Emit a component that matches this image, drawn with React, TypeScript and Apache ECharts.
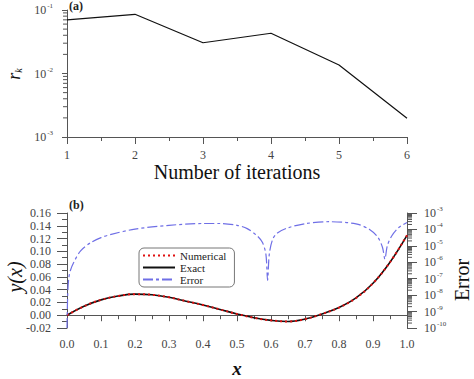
import React, { useEffect, useRef } from "react";
import * as echarts from "echarts";

// Panel (a): residual per iteration
const iterations = [1, 2, 3, 4, 5, 6];
const residuals = [0.0697, 0.0855, 0.0305, 0.043, 0.0136, 0.00197];

// Panel (b): solution y(x)
const xs = [0, 0.05, 0.1, 0.15, 0.2, 0.25, 0.3, 0.35, 0.4, 0.45, 0.5, 0.55, 0.6, 0.65, 0.7, 0.75, 0.8, 0.85, 0.9, 0.95, 1.0];
const yExact = [0, 0.014, 0.024, 0.030, 0.033, 0.032, 0.028, 0.022, 0.016, 0.009, 0.002, -0.004, -0.008, -0.0098, -0.006, 0.002, 0.012, 0.027, 0.050, 0.083, 0.125];
const yNumerical = [0, 0.014, 0.024, 0.030, 0.033, 0.032, 0.028, 0.022, 0.016, 0.009, 0.002, -0.004, -0.008, -0.0098, -0.006, 0.002, 0.012, 0.027, 0.050, 0.083, 0.125];

// Panel (b): absolute error (log10 values)
const errX = [0, 0.002, 0.005, 0.01, 0.02, 0.04, 0.07, 0.1, 0.13, 0.2, 0.3, 0.4, 0.45, 0.5, 0.53, 0.56, 0.575, 0.585, 0.59, 0.595, 0.605, 0.62, 0.65, 0.7, 0.77, 0.85, 0.89, 0.915, 0.928, 0.935, 0.942, 0.955, 0.975, 1.0];
const errLog = [-10, -8, -7, -6.5, -6, -5.3, -4.8, -4.5, -4.3, -3.98, -3.75, -3.64, -3.64, -3.75, -3.95, -4.4, -4.8, -5.5, -7.1, -5.5, -4.6, -4.2, -3.9, -3.65, -3.53, -3.66, -4.0, -4.5, -5.1, -5.8, -5.0, -4.4, -3.9, -3.58];

function minorLogTicks(lo: number, hi: number): number[] {
  const out: number[] = [];
  for (let e = lo; e < hi; e++) {
    for (let m = 2; m <= 9; m++) out.push(m * Math.pow(10, e));
  }
  return out;
}

const SERIF = "Liberation Serif";
const AXIS_COLOR = "#555";
const LABEL_COLOR = "#444";

const logLabel = (v: number) => {
  const e = Math.round(Math.log10(v));
  return `{b|10}{s|${e}}`;
};
const logRich = {
  b: { fontSize: 12, fontFamily: SERIF, color: LABEL_COLOR },
  s: { fontSize: 7, fontFamily: SERIF, color: LABEL_COLOR, padding: [0, 0, 8, 1] },
};

export default function App() {
  const ref = useRef<HTMLDivElement>(null);
  useEffect(() => {
    if (!ref.current) return;
    const chart = echarts.init(ref.current, null, { renderer: "svg" });
    const tickRenderer = (dx: number, len: number) => (params: any, api: any) => {
      const p = api.coord([api.value(0), api.value(1)]);
      return {
        type: "line",
        shape: { x1: p[0], y1: p[1], x2: p[0] + dx * len, y2: p[1] },
        style: { stroke: AXIS_COLOR, lineWidth: 1 },
      };
    };
    chart.setOption({
      animation: false,
      backgroundColor: "#fff",
      textStyle: { fontFamily: SERIF },
      grid: [
        { left: 67, top: 10, width: 340, height: 127 },
        { left: 67, top: 213, width: 340, height: 127 },
      ],
      xAxis: [
        {
          gridIndex: 0,
          type: "value",
          min: 1,
          max: 6,
          interval: 1,
          axisLine: { lineStyle: { color: AXIS_COLOR } },
          axisTick: { length: 7, lineStyle: { color: AXIS_COLOR } },
          minorTick: { show: true, splitNumber: 2, length: 4, lineStyle: { color: AXIS_COLOR } },
          splitLine: { show: false },
          axisLabel: { fontSize: 12, fontFamily: SERIF, color: LABEL_COLOR, margin: 12 },
          name: "Number of iterations",
          nameLocation: "middle",
          nameGap: 23,
          nameTextStyle: { fontSize: 20, fontFamily: SERIF, color: "#111" },
        },
        {
          gridIndex: 1,
          type: "value",
          min: 0,
          max: 1,
          interval: 0.1,
          axisLine: { lineStyle: { color: AXIS_COLOR } },
          axisTick: { length: 6, lineStyle: { color: AXIS_COLOR } },
          minorTick: { show: true, splitNumber: 2, length: 4, lineStyle: { color: AXIS_COLOR } },
          splitLine: { show: false },
          axisLabel: {
            fontSize: 12,
            fontFamily: SERIF,
            color: LABEL_COLOR,
            margin: 10,
            formatter: (v: number) => v.toFixed(1),
          },
          name: "x",
          nameLocation: "middle",
          nameGap: 31,
          nameTextStyle: { fontSize: 19, fontFamily: SERIF, fontStyle: "italic", fontWeight: "bold", color: "#111" },
        },
      ],
      yAxis: [
        {
          gridIndex: 0,
          type: "log",
          logBase: 10,
          min: 0.001,
          max: 0.1,
          splitNumber: 2,
          axisLine: { show: true, lineStyle: { color: AXIS_COLOR } },
          axisTick: { show: true, length: 5, lineStyle: { color: AXIS_COLOR } },
          splitLine: { show: false },
          axisLabel: { formatter: logLabel, rich: logRich, margin: 14 },
        },
        {
          gridIndex: 1,
          type: "value",
          min: -0.02,
          max: 0.16,
          interval: 0.02,
          axisLine: { show: true, lineStyle: { color: AXIS_COLOR } },
          axisTick: { show: true, length: 10, lineStyle: { color: AXIS_COLOR } },
          minorTick: { show: true, splitNumber: 2, length: 5, lineStyle: { color: AXIS_COLOR } },
          splitLine: { show: false },
          axisLabel: {
            fontSize: 12,
            fontFamily: SERIF,
            color: LABEL_COLOR,
            margin: 16,
            formatter: (v: number) => v.toFixed(2),
          },
        },
        {
          gridIndex: 1,
          type: "log",
          logBase: 10,
          position: "right",
          min: 1e-10,
          max: 1e-3,
          splitNumber: 7,
          axisLine: { show: true, lineStyle: { color: AXIS_COLOR } },
          axisTick: { show: true, length: 10, lineStyle: { color: AXIS_COLOR } },
          splitLine: { show: false },
          axisLabel: { formatter: logLabel, rich: logRich, margin: 17 },
        },
      ],
      legend: {
        data: ["Numerical", "Exact", "Error"],
        orient: "vertical",
        left: 139,
        top: 248,
        itemWidth: 32,
        itemHeight: 10,
        itemGap: 1,
        padding: [2, 8, 2, 3],
        borderColor: "#777",
        borderWidth: 1,
        borderRadius: 5,
        itemStyle: { opacity: 0 },
        textStyle: { fontSize: 11, lineHeight: 11, fontFamily: SERIF, color: "#222" },
      },
      graphic: [
        { type: "text", left: 69, top: 0, style: { text: "(a)", fontSize: 12, fontWeight: "bold", fontFamily: SERIF, fill: "#222" } },
        { type: "text", left: 69, top: 199, style: { text: "(b)", fontSize: 12, fontWeight: "bold", fontFamily: SERIF, fill: "#222" } },
        {
          type: "text",
          x: 14,
          y: 74,
          rotation: Math.PI / 2,
          style: {
            text: "{r|r}{k|k}",
            align: "center",
            verticalAlign: "middle",
            rich: {
              r: { fontSize: 18, fontStyle: "italic", fontFamily: SERIF, fill: "#111" },
              k: { fontSize: 10, fontStyle: "italic", fontFamily: SERIF, fill: "#111", padding: [8, 0, 0, 0] },
            },
          },
        },
        {
          type: "text",
          x: 15,
          y: 277,
          rotation: Math.PI / 2,
          style: { text: "y(x)", align: "center", verticalAlign: "middle", fontSize: 20, fontStyle: "italic", fontFamily: SERIF, fill: "#111" },
        },
        {
          type: "text",
          x: 462,
          y: 280,
          rotation: Math.PI / 2,
          style: { text: "Error", align: "center", verticalAlign: "middle", fontSize: 20, fontFamily: SERIF, fill: "#111" },
        },
      ],
      series: [
        {
          type: "line",
          xAxisIndex: 0,
          yAxisIndex: 0,
          data: iterations.map((x, i) => [x, residuals[i]]),
          showSymbol: false,
          symbol: "none",
          lineStyle: { color: "#111", width: 1.2 },
        },
        {
          name: "Exact",
          type: "line",
          xAxisIndex: 1,
          yAxisIndex: 1,
          data: xs.map((x, i) => [x, yExact[i]]),
          smooth: 0.4,
          symbol: "none",
          itemStyle: { color: "#111" },
          lineStyle: { color: "#111", width: 1.6 },
        },
        {
          name: "Numerical",
          type: "line",
          xAxisIndex: 1,
          yAxisIndex: 1,
          data: xs.map((x, i) => [x, yNumerical[i]]),
          smooth: 0.4,
          symbol: "none",
          itemStyle: { color: "#e01010" },
          lineStyle: { color: "#e01010", width: 2, type: [2, 3] },
        },
        {
          name: "Error",
          type: "line",
          xAxisIndex: 1,
          yAxisIndex: 2,
          data: errX.map((x, i) => [x, Math.pow(10, errLog[i])]),
          smooth: 0.3,
          symbol: "none",
          itemStyle: { color: "#6f6fe6" },
          lineStyle: { color: "#6f6fe6", width: 1.2, type: [10, 3, 3, 3] },
        },
        {
          type: "custom",
          xAxisIndex: 1,
          yAxisIndex: 2,
          silent: true,
          clip: false,
          data: minorLogTicks(-10, -3).map((v) => [1, v]),
          renderItem: tickRenderer(1, 5),
        },
        {
          type: "custom",
          xAxisIndex: 0,
          yAxisIndex: 0,
          silent: true,
          clip: false,
          data: minorLogTicks(-3, -1).map((v) => [1, v]),
          renderItem: tickRenderer(-1, 4),
        },
      ],
    });
    return () => chart.dispose();
  }, []);
  return (
    <div
      ref={ref}
      style={{ position: "fixed", left: 0, top: 0, width: 474, height: 379, background: "#fff" }}
    />
  );
}
